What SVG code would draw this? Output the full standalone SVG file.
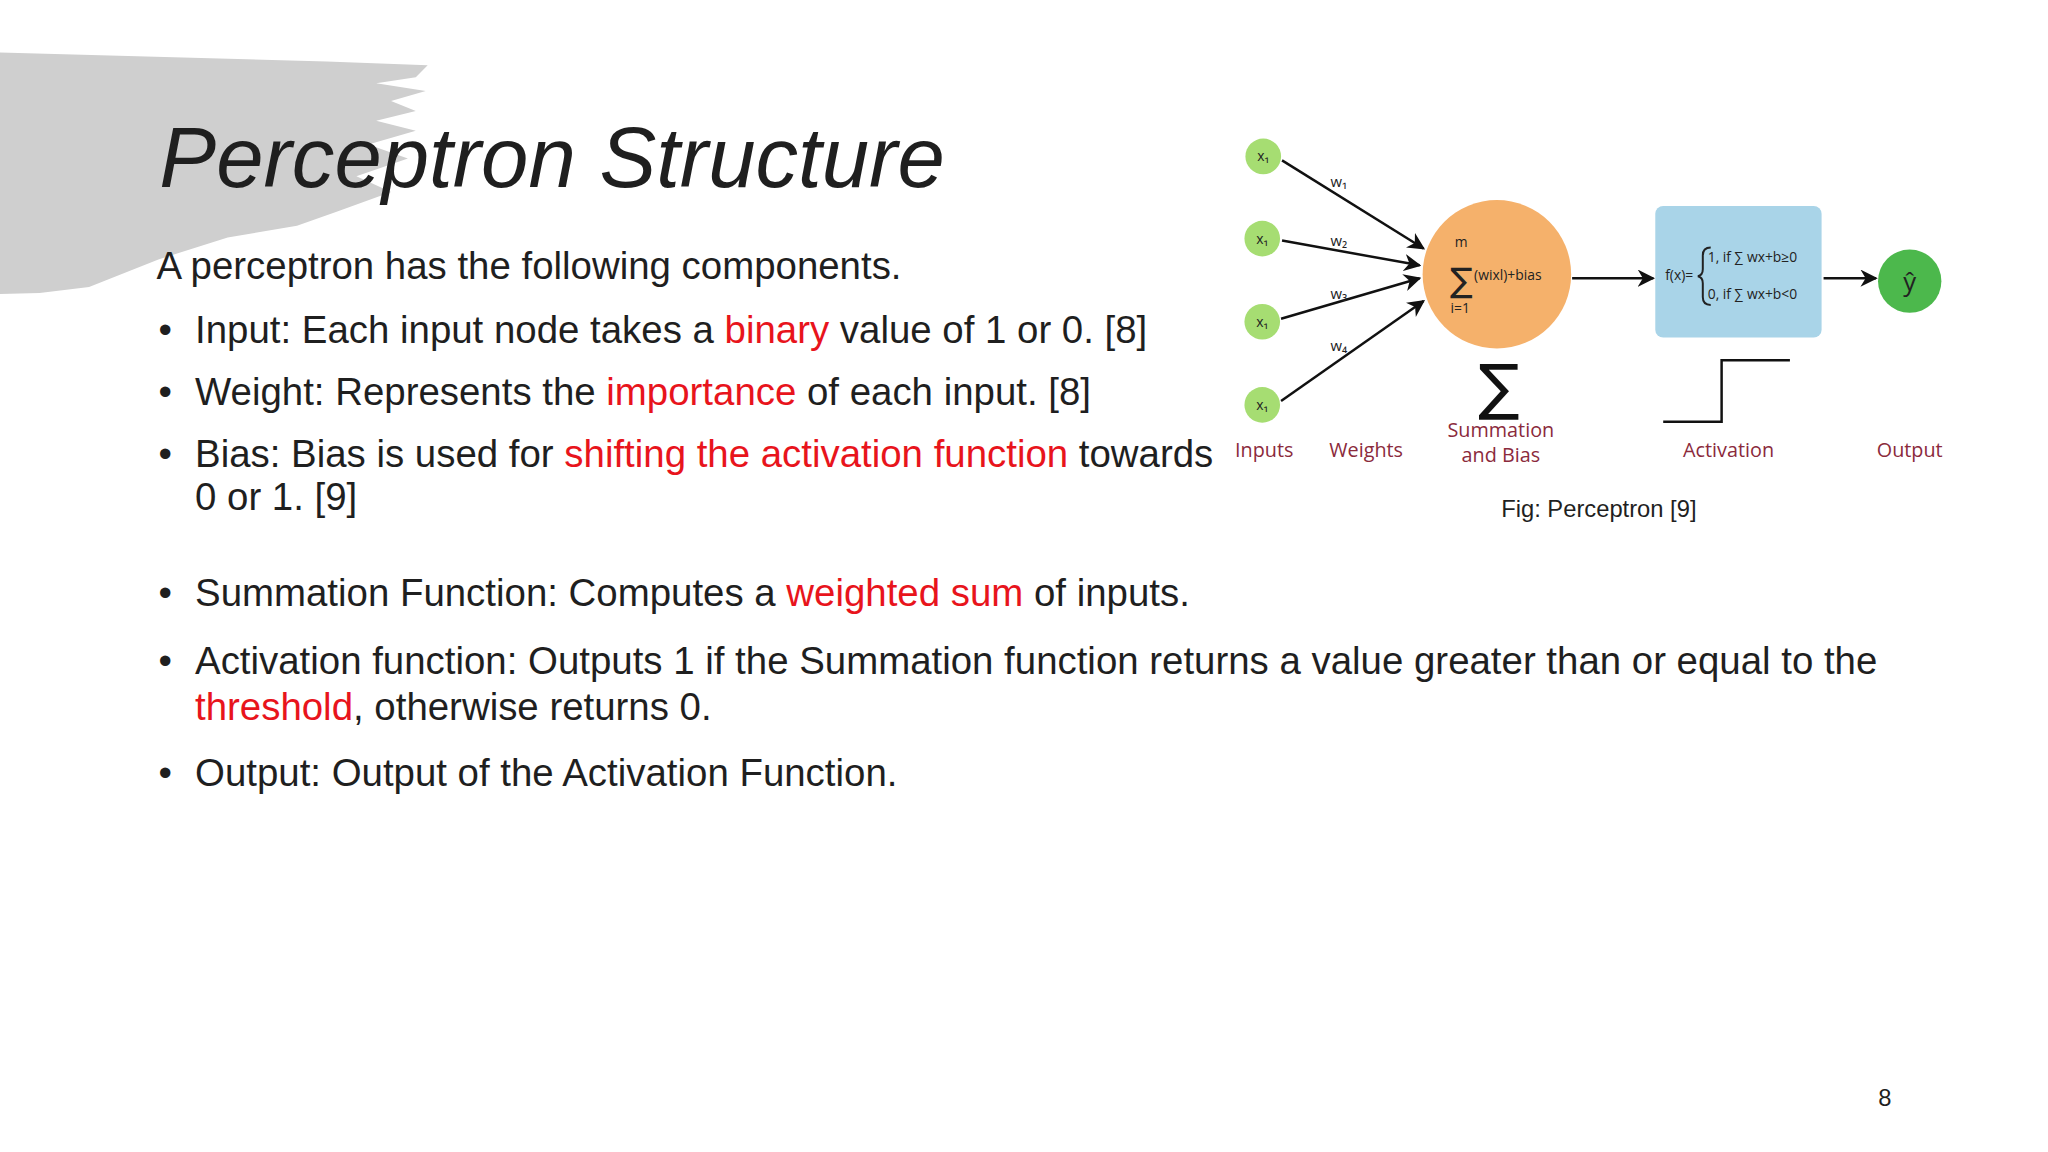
<svg xmlns="http://www.w3.org/2000/svg" width="2048" height="1152" viewBox="0 0 2048 1152">
<style>
.body{font-family:"Liberation Sans",Arial,sans-serif;font-size:38.8px;fill:#1f1f1f}
.r{fill:#e8141c}
.lbl{font-family:"Open Sans","Liberation Sans",sans-serif;font-size:20px;fill:#8b2a3c;text-anchor:middle}
.w{font-family:"Open Sans","Liberation Sans",sans-serif;font-size:15px;fill:#222}
.xn{fill:#a6dd72}
.xt{font-family:"Open Sans","Liberation Sans",sans-serif;font-size:14px;fill:#222;text-anchor:middle}
.f{font-family:"Open Sans","Liberation Sans",sans-serif;font-size:14px;fill:#222}
.ln{stroke:#111;stroke-width:2.5;fill:none}
</style>
<defs>
<marker id="ah" viewBox="0 0 10 10" refX="9" refY="5" markerWidth="7" markerHeight="7" orient="auto"><path d="M0,0 L10,5 L0,10 L3,5 z" fill="#111"/></marker>
</defs>
<rect width="2048" height="1152" fill="#fff"/>
<g transform="scale(0.99)">
<g id="brush">
<path d="M0,53 L330,62 L432,66 L420,78 L380,84 L430,92 L395,102 L420,112 L380,122 L420,132 L372,146 L412,160 L360,178 L395,194 L340,214 L300,228 L230,240 L160,262 L90,290 L40,296 L0,297 Z" fill="#cfcfcf"/>
</g>
<text x="161" y="189" font-family="Liberation Sans,Arial,sans-serif" font-style="italic" font-size="86" fill="#1f1f1f">Perceptron Structure</text>
<g id="body">
<text class="body" x="158" y="282">A perceptron has the following components.</text>
<text class="body" x="160" y="346">•</text><text class="body" x="197" y="346">Input: Each input node takes a <tspan class="r">binary</tspan> value of 1 or 0. [8]</text>
<text class="body" x="160" y="409">•</text><text class="body" x="197" y="409">Weight: Represents the <tspan class="r">importance</tspan> of each input. [8]</text>
<text class="body" x="160" y="472">•</text><text class="body" x="197" y="472">Bias: Bias is used for <tspan class="r">shifting the activation function</tspan> towards</text>
<text class="body" x="197" y="515">0 or 1. [9]</text>
<text class="body" x="160" y="612">•</text><text class="body" x="197" y="612">Summation Function: Computes a <tspan class="r">weighted sum</tspan> of inputs.</text>
<text class="body" x="160" y="681">•</text><text class="body" x="197" y="681">Activation function: Outputs 1 if the Summation function returns a value greater than or equal to the</text>
<text class="body" x="197" y="727"><tspan class="r">threshold</tspan>, otherwise returns 0.</text>
<text class="body" x="160" y="794">•</text><text class="body" x="197" y="794">Output: Output of the Activation Function.</text>
</g>
<g id="connectors">
<line class="ln" x1="1295" y1="162" x2="1438" y2="251" marker-end="url(#ah)"/>
<line class="ln" x1="1295" y1="243" x2="1434" y2="268" marker-end="url(#ah)"/>
<line class="ln" x1="1294" y1="322" x2="1434" y2="281" marker-end="url(#ah)"/>
<line class="ln" x1="1294" y1="405" x2="1438" y2="304" marker-end="url(#ah)"/>
<line class="ln" x1="1588" y1="281" x2="1670" y2="281" marker-end="url(#ah)"/>
<line class="ln" x1="1842" y1="281" x2="1895" y2="281" marker-end="url(#ah)"/>
</g>
<g id="x1"><circle class="xn" cx="1276" cy="158" r="18"/><text class="xt" x="1276" y="163">x₁</text></g>
<g id="x2"><circle class="xn" cx="1275" cy="241" r="18"/><text class="xt" x="1275" y="246">x₁</text></g>
<g id="x3"><circle class="xn" cx="1275" cy="325" r="18"/><text class="xt" x="1275" y="330">x₁</text></g>
<g id="x4"><circle class="xn" cx="1275" cy="409" r="18"/><text class="xt" x="1275" y="414">x₁</text></g>
<g id="weights">
<text class="w" x="1344" y="189">w₁</text>
<text class="w" x="1344" y="248">w₂</text>
<text class="w" x="1344" y="302">w₃</text>
<text class="w" x="1344" y="355">w₄</text>
</g>
<g id="sum">
<circle cx="1512" cy="277" r="75" fill="#f5b16b"/>
<text class="f" x="1476" y="250" text-anchor="middle">m</text>
<text x="1476" y="295" font-family="DejaVu Sans,sans-serif" font-size="34" text-anchor="middle" fill="#222">∑</text>
<text class="f" x="1489" y="283">(wixl)+bias</text>
<text class="f" x="1475" y="316" text-anchor="middle">i=1</text>
</g>
<g id="activation">
<rect x="1672" y="208" width="168" height="133" rx="8" fill="#a9d4e8"/>
<text class="f" x="1682" y="283">f(x)=</text>
<path d="M1728,250 Q1720,250 1720,258 L1720,272 Q1720,278 1715,279 Q1720,280 1720,286 L1720,300 Q1720,308 1728,308" fill="none" stroke="#222" stroke-width="2"/>
<text class="f" x="1725" y="265">1, if ∑ wx+b≥0</text>
<text class="f" x="1725" y="302">0, if ∑ wx+b&lt;0</text>
</g>
<g id="output"><circle cx="1929" cy="284" r="32" fill="#4cb84c"/><text x="1929" y="294" font-family="Open Sans,sans-serif" font-size="26" text-anchor="middle" fill="#222">ŷ</text></g>
<text x="1514" y="412" font-family="DejaVu Sans,sans-serif" font-size="62" text-anchor="middle" fill="#111">∑</text>
<path class="ln" d="M1680,426 L1739,426 L1739,364 L1808,364"/>
<g id="labels">
<text class="lbl" x="1277" y="462">Inputs</text>
<text class="lbl" x="1380" y="462">Weights</text>
<text class="lbl" x="1516" y="441">Summation</text>
<text class="lbl" x="1516" y="467">and Bias</text>
<text class="lbl" x="1746" y="462">Activation</text>
<text class="lbl" x="1929" y="462">Output</text>
</g>
<text x="1615" y="522" font-family="Liberation Sans,Arial,sans-serif" font-size="24" text-anchor="middle" fill="#1f1f1f">Fig: Perceptron [9]</text>
<text x="1904" y="1117" font-family="Liberation Sans,Arial,sans-serif" font-size="24" text-anchor="middle" fill="#1f1f1f">8</text>
</g>
</svg>
